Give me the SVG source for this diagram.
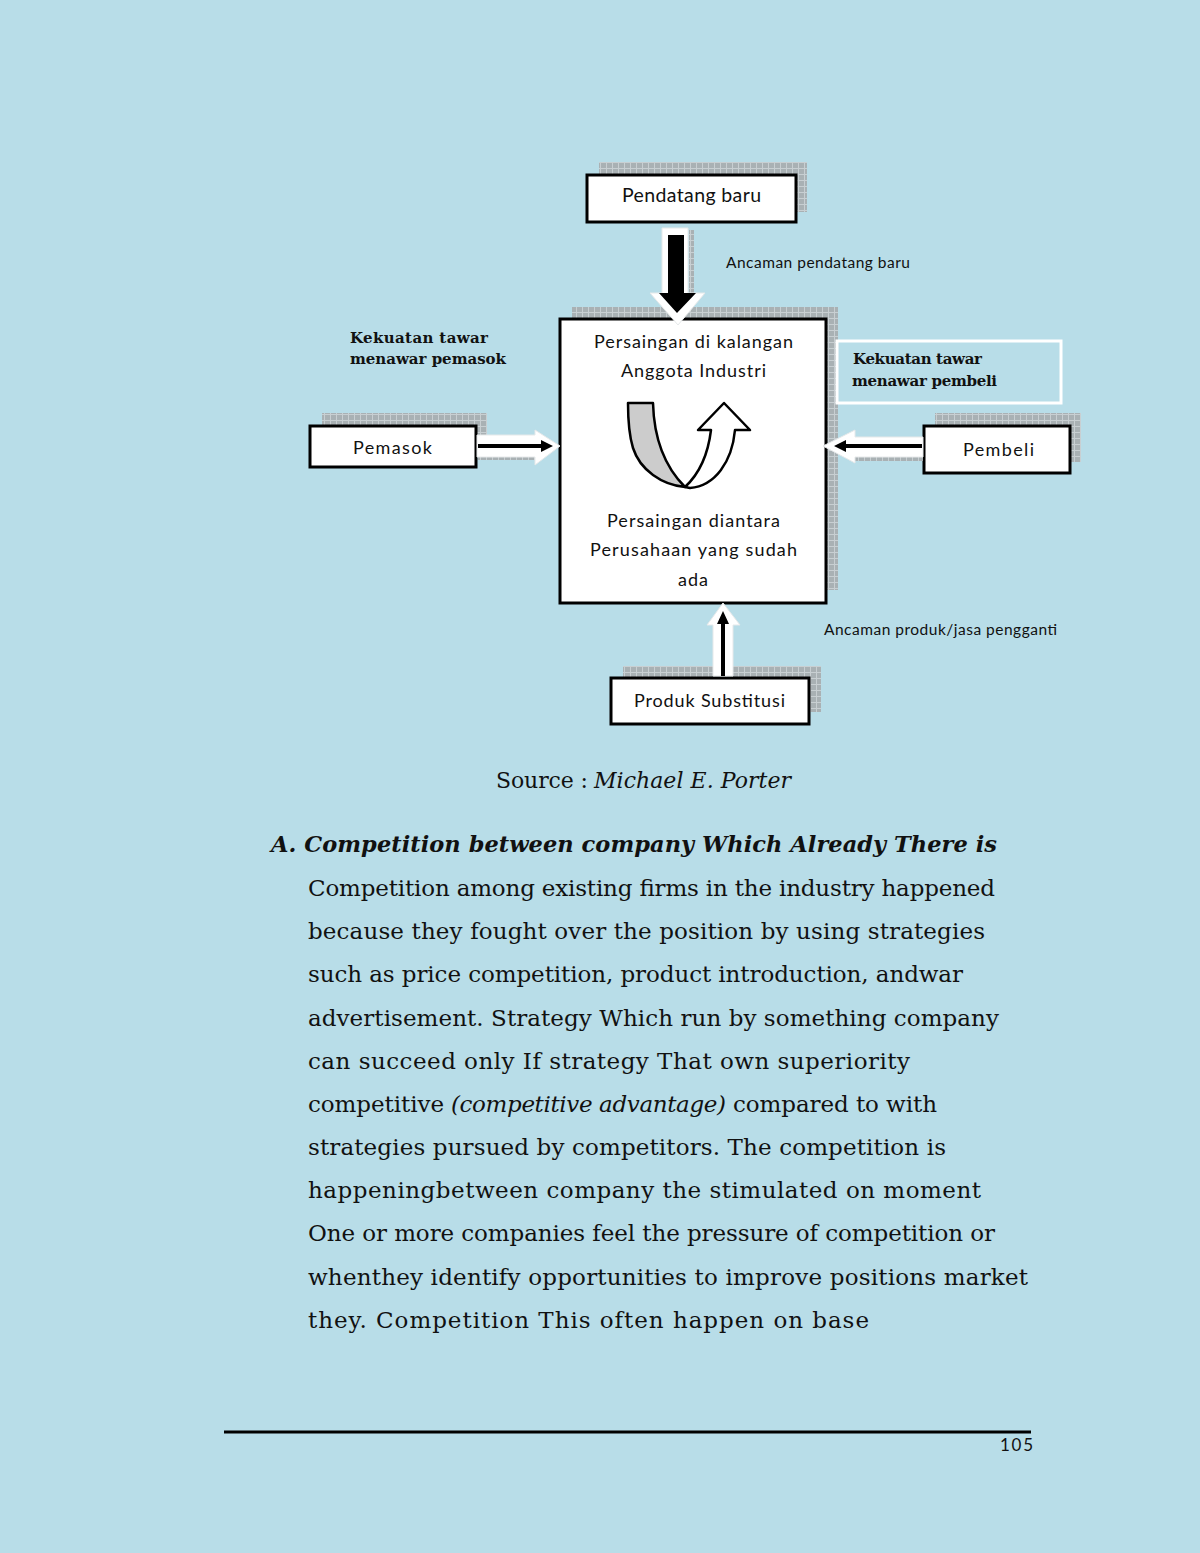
<svg xmlns="http://www.w3.org/2000/svg" width="1200" height="1553" viewBox="0 0 1200 1553">
<defs>
<pattern id="hatch" width="12" height="6" patternUnits="userSpaceOnUse">
<rect width="12" height="6" fill="#a9b1b4"/>
<path d="M0,0.5H12M0.5,0V6M6.5,0V6" stroke="#c8cfd2" stroke-width="1"/>
</pattern>
<style>
.box{fill:#ffffff;stroke:#000000;stroke-width:3}
.shadow{fill:url(#hatch)}
.lbl{font-family:Lato,"Open Sans","DejaVu Sans",sans-serif;fill:#111111}
.ser{font-family:"DejaVu Serif","Liberation Serif",serif;fill:#111111}
.blk{fill:#000000;stroke:none}
.wa{fill:#ffffff;stroke:#e6e9ea;stroke-width:1}
</style>
</defs>
<rect x="0" y="0" width="1200" height="1553" fill="#b8dde8"/>

<g id="node-pendatang">
  <rect class="shadow" x="599" y="162" width="208" height="50"/>
  <rect class="box" x="587" y="175" width="209" height="47"/>
  <text class="lbl" x="622" y="202" font-size="19.5" textLength="139" lengthAdjust="spacing">Pendatang baru</text>
</g>

<g id="label-ancaman-pendatang">
  <text class="lbl" x="726" y="268" font-size="15.5" textLength="184" lengthAdjust="spacing">Ancaman pendatang baru</text>
</g>

<g id="node-center">
  <rect class="shadow" x="572" y="307" width="266" height="283"/>
  <rect class="box" x="560" y="319" width="266" height="284"/>
  <text class="lbl" x="594" y="348" font-size="18" textLength="199" lengthAdjust="spacing">Persaingan di kalangan</text>
  <text class="lbl" x="621" y="377" font-size="18" textLength="145" lengthAdjust="spacing">Anggota Industri</text>
  <path d="M628,403 L653,403 C654,440 666,468 685,487 C662,485 640,470 633,448 C629,435 628,420 628,403 Z" fill="#cccccc" stroke="#000000" stroke-width="2.5" stroke-linejoin="round"/>
  <path d="M685,487 C698,475 708,455 711,430 L698,430 L724,403 L750,430 L735,430 C732,462 715,486 690,488 Z" fill="#ffffff" stroke="#000000" stroke-width="2.5" stroke-linejoin="round"/>
  <text class="lbl" x="607" y="527" font-size="18" textLength="173" lengthAdjust="spacing">Persaingan diantara</text>
  <text class="lbl" x="590" y="556" font-size="18" textLength="207" lengthAdjust="spacing">Perusahaan yang sudah</text>
  <text class="lbl" x="678" y="586" font-size="18" textLength="30" lengthAdjust="spacing">ada</text>
</g>

<g id="label-pemasok-power">
  <text class="ser" x="350" y="343" font-size="15" font-weight="bold" textLength="138" lengthAdjust="spacing">Kekuatan tawar</text>
  <text class="ser" x="350" y="364" font-size="15" font-weight="bold" textLength="156" lengthAdjust="spacing">menawar pemasok</text>
</g>

<g id="label-pembeli-power">
  <rect x="837" y="341" width="224" height="62" fill="none" stroke="#ffffff" stroke-width="3"/>
  <text class="ser" x="853" y="364" font-size="15" font-weight="bold" textLength="129" lengthAdjust="spacing">Kekuatan tawar</text>
  <text class="ser" x="852" y="386" font-size="15" font-weight="bold" textLength="145" lengthAdjust="spacing">menawar pembeli</text>
</g>

<g id="node-pemasok">
  <rect class="shadow" x="322" y="413" width="165" height="42"/>
  <rect class="box" x="310" y="426" width="166" height="41"/>
  <text class="lbl" x="353" y="454" font-size="18" textLength="79" lengthAdjust="spacing">Pemasok</text>
</g>

<g id="node-pembeli">
  <rect class="shadow" x="935" y="413" width="146" height="49"/>
  <rect class="box" x="924" y="426" width="146" height="47"/>
  <text class="lbl" x="963" y="456" font-size="18" textLength="71" lengthAdjust="spacing">Pembeli</text>
</g>

<g id="node-produk">
  <rect class="shadow" x="623" y="666" width="198" height="46"/>
  <rect class="box" x="611" y="678" width="198" height="46"/>
  <text class="lbl" x="634" y="707" font-size="18" textLength="151" lengthAdjust="spacing">Produk Substitusi</text>
</g>

<g id="label-ancaman-produk">
  <text class="lbl" x="824" y="635" font-size="15.5" textLength="233" lengthAdjust="spacing">Ancaman produk/jasa pengganti</text>
</g>

<g id="connectors">
  <g id="arrow-top">
    <path class="shadow" d="M689,230 H694 V296 H689 Z"/>
    <path class="wa" d="M662,228 H688 V293 H705 L678,325 L650,293 H662 Z"/>
    <path class="blk" d="M668,235 H684 V293 H696 L677,313 L659,293 H668 Z"/>
  </g>
  <g id="arrow-left">
    <path class="shadow" d="M478,455 H538 V460 H478 Z"/>
    <path class="wa" d="M477,435 H535 V430 L560,446 L535,465 V457 H477 Z"/>
    <path class="blk" d="M478,444 H541 V440 L553,446 L541,452 V448 H478 Z"/>
  </g>
  <g id="arrow-right">
    <path class="shadow" d="M852,456 H923 V461 H852 Z"/>
    <path class="wa" d="M923,437 H855 V430 L823,446 L855,463 V457 H923 Z"/>
    <path class="blk" d="M922,444 H846 V440 L834,446 L846,452 V448 H922 Z"/>
  </g>
  <g id="arrow-bottom">
    <path class="wa" d="M713,676 V625 H707 L723,603 L740,625 H733 V676 Z"/>
    <path class="blk" d="M721,676 V624 H717 L723,611 L729,624 H725 V676 Z"/>
  </g>
</g>

<g id="caption">
  <text class="ser" x="496" y="788" font-size="22" textLength="92" lengthAdjust="spacing">Source :</text>
  <text class="ser" x="594" y="788" font-size="22" font-style="italic" textLength="197" lengthAdjust="spacing">Michael E. Porter</text>
</g>

<g id="body">
  <text class="ser" x="271" y="852" font-size="22.5" font-weight="bold" font-style="italic" textLength="726" lengthAdjust="spacing">A. Competition between company Which Already There is</text>
  <text class="ser" x="308" y="896" font-size="23" textLength="687" lengthAdjust="spacing">Competition among existing firms in the industry happened</text>
  <text class="ser" x="308" y="939" font-size="23" textLength="677" lengthAdjust="spacing">because they fought over the position by using strategies</text>
  <text class="ser" x="308" y="982" font-size="23" textLength="655" lengthAdjust="spacing">such as price competition, product introduction, andwar</text>
  <text class="ser" x="308" y="1026" font-size="23" textLength="691" lengthAdjust="spacing">advertisement. Strategy Which run by something company</text>
  <text class="ser" x="308" y="1069" font-size="23" textLength="602" lengthAdjust="spacing">can succeed only If strategy That own superiority</text>
  <text class="ser" x="308" y="1112" font-size="23" textLength="136" lengthAdjust="spacing">competitive</text>
  <text class="ser" x="451" y="1112" font-size="23" font-style="italic" textLength="275" lengthAdjust="spacing">(competitive advantage)</text>
  <text class="ser" x="733" y="1112" font-size="23" textLength="204" lengthAdjust="spacing">compared to with</text>
  <text class="ser" x="308" y="1155" font-size="23" textLength="638" lengthAdjust="spacing">strategies pursued by competitors. The competition is</text>
  <text class="ser" x="308" y="1198" font-size="23" textLength="673" lengthAdjust="spacing">happeningbetween company the stimulated on moment</text>
  <text class="ser" x="308" y="1241" font-size="23" textLength="687" lengthAdjust="spacing">One or more companies feel the pressure of competition or</text>
  <text class="ser" x="308" y="1285" font-size="23" textLength="720" lengthAdjust="spacing">whenthey identify opportunities to improve positions market</text>
  <text class="ser" x="308" y="1328" font-size="23" textLength="561" lengthAdjust="spacing">they. Competition This often happen on base</text>
</g>

<g id="footer">
  <line x1="224" y1="1432" x2="1031" y2="1432" stroke="#000000" stroke-width="3"/>
  <text class="lbl" x="1000" y="1451" font-size="17" textLength="33" lengthAdjust="spacing">105</text>
</g>
</svg>
